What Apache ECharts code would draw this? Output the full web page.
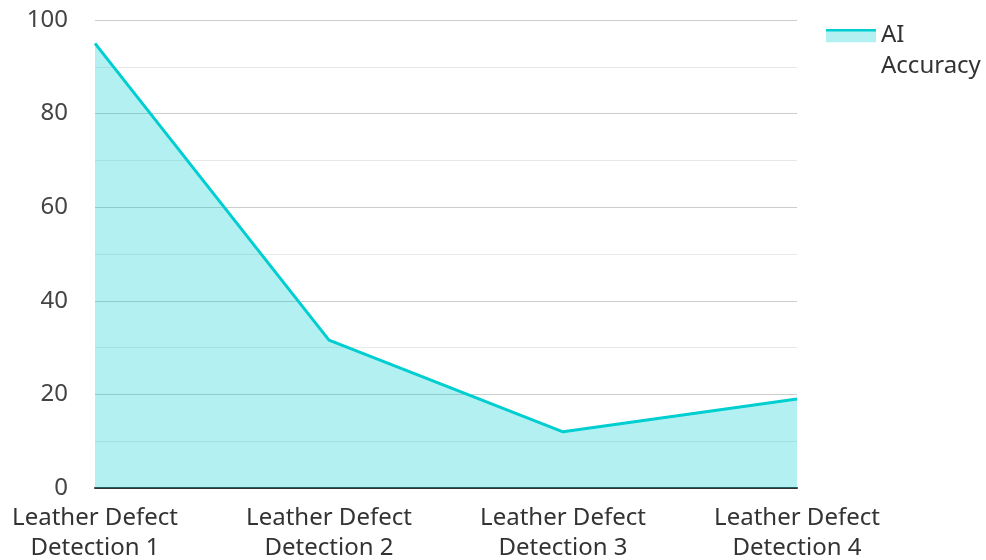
<!DOCTYPE html>
<html><head><meta charset="utf-8">
<script src="https://cdn.jsdelivr.net/npm/echarts@6/dist/echarts.min.js"></script>
<style>html,body{margin:0;padding:0;background:#fff}#c{width:986px;height:560px}</style>
</head><body><div id="c"></div>
<script>
const categories = ['Leather Defect\nDetection 1','Leather Defect\nDetection 2','Leather Defect\nDetection 3','Leather Defect\nDetection 4'];
const seriesName = 'AI Accuracy';
const accuracy = [95, 31.6, 12, 19];
const yTicks = [0, 20, 40, 60, 80, 100];

const iconSvg = '<svg xmlns="http://www.w3.org/2000/svg" width="50" height="14"><rect x="0" y="2" width="50" height="12" fill="#b2f0f1"/><rect x="0" y="0" width="50" height="3" fill="#00ced1"/></svg>';
const chart = echarts.init(document.getElementById('c'));
chart.setOption({
  animation: false,
  textStyle: {fontFamily: 'Noto Sans'},
  grid: {left: 95, right: 189, top: 20, bottom: 72, containLabel: false, outerBoundsMode: 'none'},
  legend: {
    left: 821, top: -16, orient: 'vertical',
    itemWidth: 50, itemHeight: 14, itemGap: 8,
    icon: 'image://data:image/svg+xml;utf8,' + encodeURIComponent(iconSvg),
    formatter: name => '\n' + name.replace(' ', '\n'),
    textStyle: {fontSize: 24, color: '#333', lineHeight: 31, fontFamily: 'Noto Sans'},
    data: [seriesName]
  },
  xAxis: {
    type: 'category', data: categories, boundaryGap: false,
    axisLine: {lineStyle: {color: '#333', width: 2}},
    axisTick: {show: false},
    axisLabel: {fontSize: 24, color: '#333', lineHeight: 30, margin: 15, fontFamily: 'Noto Sans'},
    splitLine: {show: false}
  },
  yAxis: {
    type: 'value', min: yTicks[0], max: yTicks[yTicks.length-1], interval: 20,
    axisLine: {show: false}, axisTick: {show: false},
    axisLabel: {fontSize: 24, color: '#444', margin: 27, fontFamily: 'Noto Sans'},
    splitLine: {lineStyle: {color: '#cccccc', width: 1}},
    minorTick: {show: false, splitNumber: 2},
    minorSplitLine: {show: true, lineStyle: {color: '#e8e8e8', width: 1}}
  },
  series: [{
    name: seriesName, type: 'line', data: accuracy,
    symbol: 'none', lineStyle: {color: '#00ced1', width: 3},
    itemStyle: {color: '#00ced1'},
    areaStyle: {color: '#00ced1', opacity: 0.3}
  }]
});
</script></body></html>
